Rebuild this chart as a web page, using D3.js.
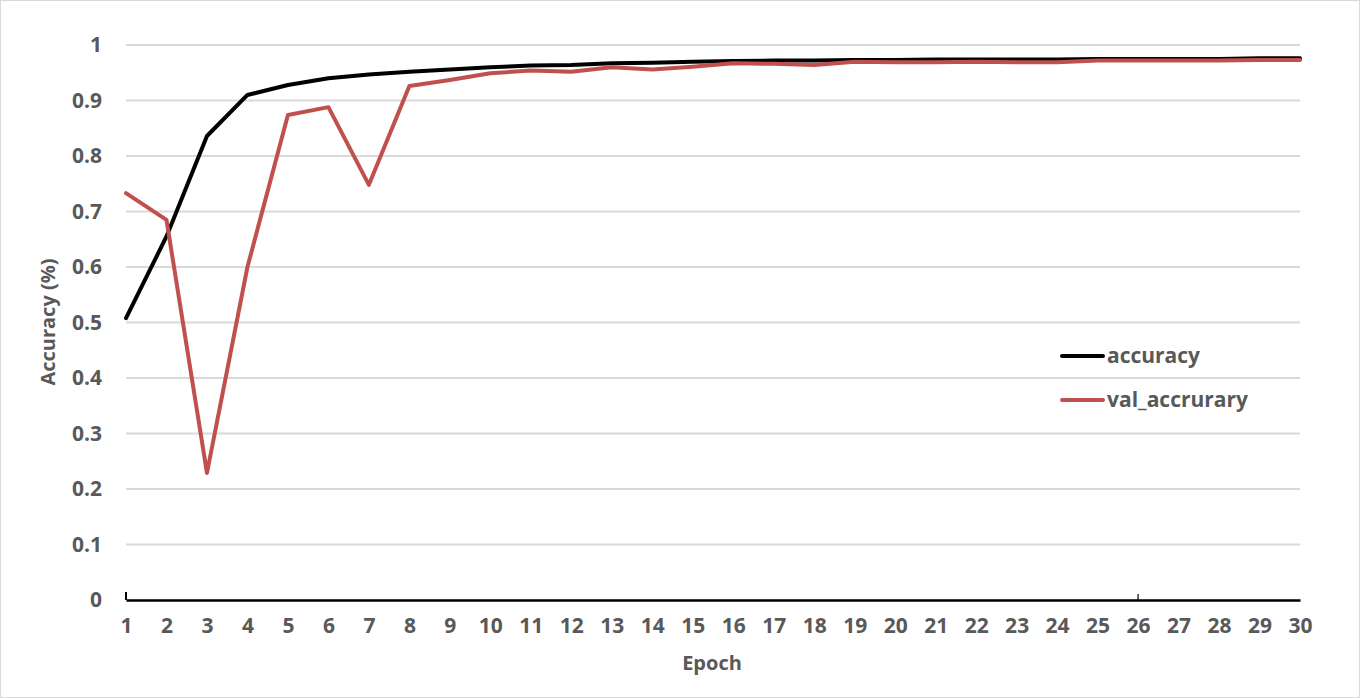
<!DOCTYPE html>
<html><head><meta charset="utf-8">
<script src="https://cdn.jsdelivr.net/npm/d3@7/dist/d3.min.js"></script>
<style>body{margin:0;background:#fff}svg{display:block}text{font-family:"Open Sans",Lato,sans-serif;font-weight:bold;fill:#595959}</style>
</head><body>
<script>
const epochs = d3.range(1, 31);
const accuracy = [0.508,0.655,0.836,0.910,0.928,0.940,0.947,0.952,0.956,0.960,0.963,0.964,0.967,0.968,0.970,0.971,0.972,0.972,0.973,0.973,0.974,0.974,0.974,0.974,0.975,0.975,0.975,0.975,0.976,0.976];
const valAccuracy = [0.733,0.685,0.229,0.600,0.874,0.888,0.748,0.926,0.937,0.949,0.954,0.952,0.960,0.956,0.961,0.967,0.966,0.964,0.970,0.969,0.969,0.970,0.969,0.969,0.972,0.972,0.972,0.972,0.973,0.973];
const yTicks = [0,0.1,0.2,0.3,0.4,0.5,0.6,0.7,0.8,0.9,1];
const seriesNames = ["accuracy","val_accrurary"];
const colors = ["#000000","#c0504d"];

const W=1360,H=698, FS=21, TS=20;
const svg=d3.select("body").append("svg").attr("width",W).attr("height",H);
svg.append("rect").attr("x",0.5).attr("y",0.5).attr("width",W-1).attr("height",H-1).attr("fill","#fff").attr("stroke","#d9d9d9");

const x=d3.scaleLinear().domain([1,30]).range([126,1300]);
const y=d3.scaleLinear().domain([0,1]).range([600,45]);

// gridlines
svg.append("g").selectAll("line").data(yTicks.filter(d=>d>0)).join("line")
 .attr("x1",126).attr("x2",1300).attr("y1",d=>y(d)).attr("y2",d=>y(d))
 .attr("stroke","#d9d9d9").attr("stroke-width",2);

// y labels
svg.append("g").selectAll("text").data(yTicks).join("text")
 .attr("x",102).attr("y",d=>y(d)).attr("dy","0.35em").attr("text-anchor","end")
 .attr("font-size",FS).text(d=>d===0?"0":d===1?"1":d3.format(".1f")(d));

// x axis
const xAxis=d3.axisBottom(x).tickValues(epochs).tickSize(0).tickPadding(18).tickFormat(d3.format("d"));
const gx=svg.append("g").attr("transform","translate(0,600)").call(xAxis);
gx.select(".domain").attr("stroke","#000").attr("stroke-width",2.5);
gx.selectAll("text").attr("font-size",FS).style("font-family","'Open Sans',Lato,sans-serif").attr("fill","#595959");
svg.append("line").attr("x1",x(1)).attr("x2",x(1)).attr("y1",592).attr("y2",600).attr("stroke","#000").attr("stroke-width",2);
svg.append("line").attr("x1",x(26)).attr("x2",x(26)).attr("y1",594).attr("y2",600).attr("stroke","#000").attr("stroke-width",1.2);

// lines
const line=d3.line().x((d,i)=>x(epochs[i])).y(d=>y(d));
[accuracy,valAccuracy].forEach((s,k)=>{
 svg.append("path").datum(s).attr("d",line).attr("fill","none").attr("stroke",colors[k]).attr("stroke-width",4).attr("stroke-linejoin","round").attr("stroke-linecap","round");
});

// legend
seriesNames.forEach((n,k)=>{
 const yy=356+k*44;
 svg.append("line").attr("x1",1062).attr("x2",1103).attr("y1",yy).attr("y2",yy).attr("stroke",colors[k]).attr("stroke-width",4).attr("stroke-linecap","round");
 svg.append("text").attr("x",1107).attr("y",yy).attr("dy","0.35em").attr("font-size",FS).text(n);
});

// axis titles
svg.append("text").attr("x",712).attr("y",670).attr("text-anchor","middle").attr("font-size",TS).text("Epoch");
svg.append("text").attr("transform","translate(55,322) rotate(-90)").attr("text-anchor","middle").attr("font-size",TS).text("Accuracy (%)");
</script>
</body></html>
